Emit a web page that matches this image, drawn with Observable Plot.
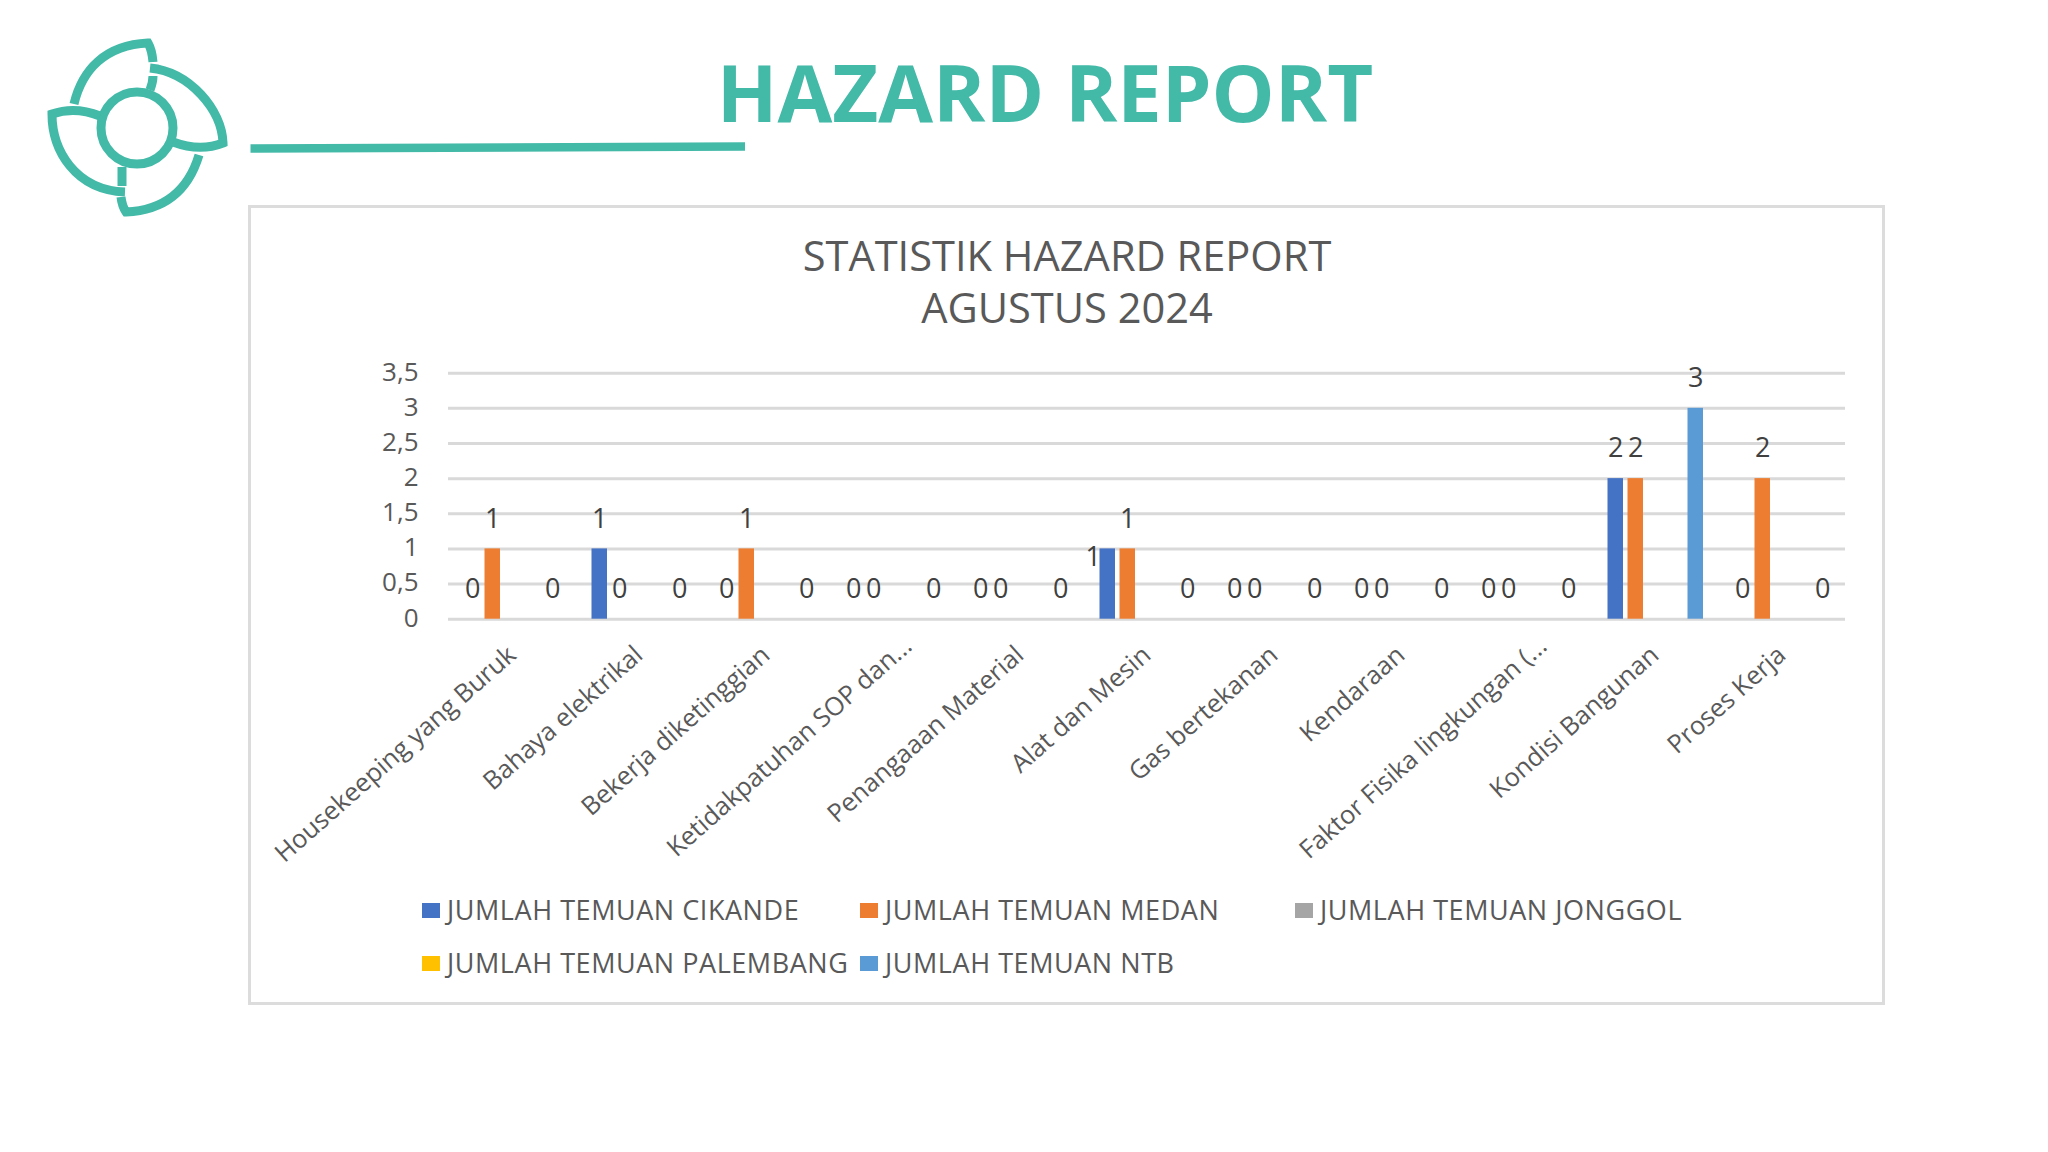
<!DOCTYPE html>
<html>
<head>
<meta charset="utf-8">
<script src="https://cdn.jsdelivr.net/npm/d3@7"></script>
<script src="https://cdn.jsdelivr.net/npm/@observablehq/plot@0.6"></script>
<style>
html,body{margin:0;padding:0;background:#fff}
#page{position:relative;width:2048px;height:1152px;overflow:hidden;font-family:"Open Sans",sans-serif}
#heading{position:absolute;left:0;width:2090px;top:36px;margin:0;text-align:center;font-size:79.4px;line-height:110px;font-weight:700;color:#43b9a8}
#logo{position:absolute;left:0;top:0}
#box{position:absolute;left:248px;top:205px;width:1637px;height:800px;box-sizing:border-box;border:3px solid #dcdcdc}
#chart-title{position:absolute;left:248px;width:1638px;top:229px;margin:0;text-align:center;font-size:41.6px;line-height:52px;font-weight:400;color:#595959}
#plot{position:absolute;left:248px;top:206px}
.lg{position:absolute;display:flex;align-items:center;color:#595959;font-size:27px;letter-spacing:.55px;line-height:30px;white-space:nowrap}
.lg i{display:block;width:18px;height:15px;margin-right:7px}
</style>
</head>
<body>
<div id="page">
<svg id="logo" width="800" height="240" fill="none" stroke="#43b9a8" stroke-width="9">
<circle cx="137" cy="128" r="36"/>
<path d="M74 104C82 70 105 45 148 43Q152 50 153 62M153 76Q153 82 150 90"/>
<path d="M150 68C190 72 222 110 223 143Q200 152 173 142"/>
<path d="M199 155C190 185 170 210 126 212Q122 206 121 197M122 186L122 167"/>
<path d="M100 116Q75 106 52 114C52 150 75 190 125 192"/>
<path d="M250.5 148.5L745 146.500" stroke-width="8.500"/>
</svg>
<h1 id="heading">HAZARD REPORT</h1>
<div id="box"></div>
<h2 id="chart-title">STATISTIK HAZARD REPORT<br>AGUSTUS 2024</h2>
<div id="plot"></div>
<div id="legend"></div>
</div>
<script>
const categories = ["Housekeeping yang Buruk","Bahaya elektrikal","Bekerja diketinggian","Ketidakpatuhan SOP dan...","Penangaaan Material","Alat dan Mesin","Gas bertekanan","Kendaraan","Faktor Fisika lingkungan (...","Kondisi Bangunan","Proses Kerja"];
const seriesNames = ["JUMLAH TEMUAN CIKANDE","JUMLAH TEMUAN MEDAN","JUMLAH TEMUAN JONGGOL","JUMLAH TEMUAN PALEMBANG","JUMLAH TEMUAN NTB"];
const seriesColors = ["#4472C4","#ED7D31","#A5A5A5","#FFC000","#5B9BD5"];
const cikande = [0,1,0,0,0,1,0,0,0,2,0];
const medan = [1,0,1,0,0,1,0,0,0,2,2];
const jonggol = [null,null,null,null,null,null,null,null,null,null,null];
const palembang = [null,null,null,null,null,null,null,null,null,null,null];
const ntb = [0,0,0,0,0,0,0,0,0,3,0];
const yTicks = [0,0.5,1,1.5,2,2.5,3,3.5];
const seriesValues = [cikande,medan,jonggol,palembang,ntb];

const rows = seriesNames.flatMap((s,i)=>categories.map((c,j)=>({category:c,series:s,value:seriesValues[i][j]})));
const present = rows.filter(d=>d.value!==null);
const isMoved = d=>d.category==="Alat dan Mesin"&&d.series===seriesNames[0];
const isCut = c=>c.endsWith("...");
const fontFamily = '"Open Sans",sans-serif';
const fxAxisStyle = {anchor:"bottom",tickSize:0,tickPadding:32,tickRotate:-41.5,fontSize:25.5,fill:"#595959",label:null,lineWidth:40};

const ML=200,MR=39,MT=166.7,MB=384.3;
const chart = Plot.plot({
  width:1636,height:797,
  marginLeft:ML,marginRight:MR,marginTop:MT,marginBottom:MB,
  style:{fontFamily,background:"transparent"},
  fx:{domain:categories,padding:0,label:null,round:false},
  x:{domain:seriesNames,range:[ML+16.5,ML+112],paddingInner:0.225,paddingOuter:0,round:false,axis:null,label:null},
  y:{domain:[0,3.5],label:null,axis:null},
  marks:[
    Plot.ruleY(yTicks,{stroke:"#d9d9d9",strokeWidth:3}),
    Plot.barY(present,{fx:"category",x:"series",y:"value",fill:d=>seriesColors[seriesNames.indexOf(d.series)]}),
    Plot.text(present.filter(d=>!isMoved(d)),{fx:"category",x:"series",y:"value",text:d=>String(d.value),dy:-30,fontSize:27,fill:"#404040",lineAnchor:"middle"}),
    Plot.text(present.filter(isMoved),{fx:"category",x:"series",y:"value",text:d=>String(d.value),dx:-14.5,dy:8,fontSize:27,fill:"#404040",lineAnchor:"middle"}),
    Plot.axisY(yTicks,{anchor:"left",tickSize:0,tickPadding:30,fontSize:26,dy:-1,fill:"#595959",label:null,tickFormat:d=>String(d).replace(".",",")}),
    Plot.axisFx({...fxAxisStyle,tickFormat:c=>isCut(c)?"":c}),
    Plot.axisFx({...fxAxisStyle,tickFormat:c=>isCut(c)?c:"",dx:15,dy:-9})
  ]
});
document.getElementById("plot").appendChild(chart);

const legendPos=[[422,910],[860,910],[1295,910],[422,963],[860,963]];
const lg=document.getElementById("legend");
seriesNames.forEach((s,i)=>{
  const e=document.createElement("div");e.className="lg";
  e.style.left=legendPos[i][0]+"px";e.style.top=(legendPos[i][1]-15)+"px";
  const sw=document.createElement("i");sw.style.background=seriesColors[i];
  e.appendChild(sw);e.appendChild(document.createTextNode(s));lg.appendChild(e);
});
</script>
</body>
</html>
